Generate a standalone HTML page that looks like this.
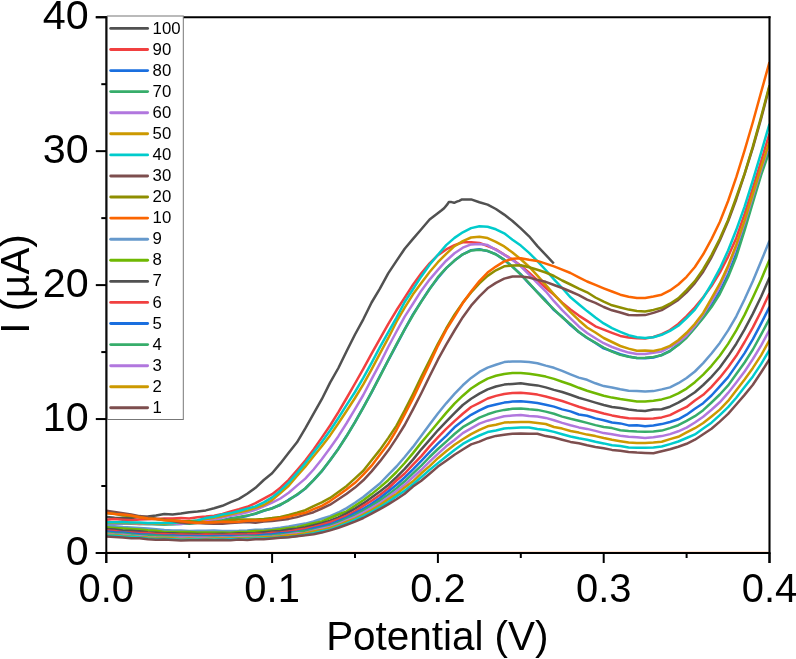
<!DOCTYPE html>
<html><head><meta charset="utf-8"><title>DPV plot</title>
<style>
html,body{margin:0;padding:0;background:#fff;}
body{width:796px;height:659px;overflow:hidden;}
svg{display:block;font-family:"Liberation Sans",Arial,sans-serif;}
.curves path{fill:none;stroke-width:2.5;stroke-linejoin:round;stroke-linecap:butt;}
.axes line{stroke:#000;stroke-width:2.0;}
text{fill:#000;}
</style></head>
<body>
<svg width="796" height="659" viewBox="0 0 796 659">
<rect width="796" height="659" fill="#fff"/>
<defs><clipPath id="clip"><rect x="106.3" y="17.2" width="663.7" height="535.8"/></clipPath></defs>
<line x1="106.3" y1="552.0" x2="769.5" y2="552.0" stroke="#FB6501" stroke-width="0.5" opacity="0.7"/>
<g class="curves" clip-path="url(#clip)">
<path d="M106.3 517.0 L114.6 517.7 L122.9 518.1 L131.2 518.0 L139.5 516.9 L147.8 516.5 L156.0 515.6 L164.3 514.0 L172.6 514.5 L180.9 513.6 L189.2 512.3 L197.5 511.5 L205.8 510.4 L214.1 508.3 L222.4 505.8 L230.7 502.1 L238.9 498.9 L247.2 493.7 L255.5 487.8 L263.8 480.0 L272.1 473.3 L280.4 463.4 L288.7 452.8 L297.0 442.3 L305.3 428.4 L313.6 413.7 L321.8 399.2 L330.1 382.6 L338.4 368.0 L346.7 351.0 L355.0 334.5 L363.3 319.3 L371.6 302.5 L379.9 288.6 L388.2 273.4 L396.5 260.9 L404.7 248.7 L413.0 238.9 L421.3 229.2 L429.6 219.5 L441.0 210.8 L444.1 208.2 L447.5 204.1 L448.9 201.9 L451.5 202.1 L454.2 202.8 L456.8 201.7 L459.2 200.8 L462.0 199.4 L471.1 199.4 L479.4 202.2 L487.6 204.6 L495.9 209.0 L504.2 214.6 L512.5 221.0 L520.8 228.4 L529.1 236.3 L537.4 246.1 L545.7 254.8 L553.8 263.5" stroke="#515151"/>
<path d="M106.3 519.7 L114.6 519.1 L122.9 519.7 L131.2 520.2 L139.5 519.6 L147.8 519.2 L156.0 518.9 L164.3 518.6 L172.6 518.6 L180.9 518.0 L189.2 518.4 L197.5 517.3 L205.8 516.6 L214.1 515.7 L222.4 514.0 L230.7 511.5 L238.9 509.3 L247.2 506.8 L255.5 503.2 L263.8 498.7 L272.1 494.2 L280.4 487.7 L288.7 479.8 L297.0 470.3 L305.3 460.5 L313.6 449.4 L321.8 437.6 L330.1 425.5 L338.4 412.2 L346.7 398.0 L355.0 383.5 L363.3 368.8 L371.6 353.7 L379.9 338.9 L388.2 324.1 L396.5 310.3 L404.7 297.6 L413.0 284.8 L421.3 273.2 L429.6 263.4 L437.9 255.2 L446.2 249.4 L454.5 245.2 L462.8 242.3 L471.1 242.2 L479.4 242.9 L487.6 246.0 L495.9 249.3 L504.2 254.6 L512.5 259.5 L520.8 265.8 L529.1 272.8 L537.4 280.3 L545.7 287.8 L554.0 294.9 L562.2 302.7 L570.5 309.5 L578.8 315.6 L587.1 320.9 L595.4 326.3 L603.7 329.7 L612.0 332.9 L620.3 335.9 L628.6 337.5 L636.9 338.3 L645.1 338.4 L653.4 337.0 L661.7 334.2 L670.0 330.1 L678.3 323.9 L686.6 316.1 L694.9 307.3 L703.2 297.2 L711.5 286.1 L719.8 272.6 L728.1 256.6 L736.3 237.9 L744.6 214.2 L752.9 187.8 L761.2 161.0 L769.5 133.6" stroke="#F14040"/>
<path d="M106.3 523.6 L114.6 523.5 L122.9 523.3 L131.2 523.3 L139.5 523.7 L147.8 524.0 L156.0 524.0 L164.3 524.3 L172.6 523.8 L180.9 524.0 L189.2 522.9 L197.5 522.7 L205.8 522.1 L214.1 521.3 L222.4 520.4 L230.7 518.2 L238.9 517.5 L247.2 515.9 L255.5 513.8 L263.8 510.8 L272.1 508.2 L280.4 505.0 L288.7 499.7 L297.0 494.9 L305.3 488.5 L313.6 480.1 L321.8 471.2 L330.1 460.3 L338.4 448.6 L346.7 435.8 L355.0 422.2 L363.3 407.4 L371.6 392.4 L379.9 376.0 L388.2 360.3 L396.5 344.8 L404.7 329.4 L413.0 314.4 L421.3 301.4 L429.6 288.7 L437.9 277.9 L446.2 268.2 L454.5 260.6 L462.8 254.3 L471.1 250.2 L479.4 249.2 L487.6 251.1 L495.9 254.2 L504.2 259.9 L512.5 266.6 L520.8 274.4 L529.1 283.7 L537.4 292.1 L545.7 300.5 L554.0 310.1 L562.2 316.8 L570.5 325.0 L578.8 332.0 L587.1 338.0 L595.4 342.9 L603.7 348.4 L612.0 351.3 L620.3 354.2 L628.6 356.5 L636.9 358.0 L645.1 358.2 L653.4 357.6 L661.7 355.0 L670.0 351.0 L678.3 344.5 L686.6 336.9 L694.9 327.7 L703.2 317.0 L711.5 305.5 L719.8 291.5 L728.1 274.6 L736.3 253.5 L744.6 227.7 L752.9 200.0 L761.2 172.6 L768.6 151.0" stroke="#1A6FDF"/>
<path d="M106.3 523.6 L114.6 523.5 L122.9 523.3 L131.2 523.7 L139.5 524.1 L147.8 523.8 L156.0 524.2 L164.3 524.5 L172.6 524.2 L180.9 523.8 L189.2 523.7 L197.5 522.8 L205.8 522.0 L214.1 521.3 L222.4 520.3 L230.7 518.6 L238.9 517.1 L247.2 515.6 L255.5 513.5 L263.8 510.5 L272.1 508.5 L280.4 504.5 L288.7 500.3 L297.0 494.4 L305.3 488.5 L313.6 480.1 L321.8 471.1 L330.1 460.2 L338.4 448.9 L346.7 436.0 L355.0 422.1 L363.3 407.6 L371.6 392.1 L379.9 376.6 L388.2 360.2 L396.5 344.3 L404.7 329.3 L413.0 315.0 L421.3 301.6 L429.6 289.1 L437.9 277.2 L446.2 268.2 L454.5 260.6 L462.8 254.3 L471.1 250.6 L479.4 249.7 L487.6 250.8 L495.9 254.5 L504.2 259.6 L512.5 266.9 L520.8 274.7 L529.1 283.2 L537.4 292.5 L545.7 301.4 L554.0 309.3 L562.2 317.3 L570.5 324.2 L578.8 332.0 L587.1 337.7 L595.4 342.7 L603.7 347.5 L612.0 351.7 L620.3 354.9 L628.6 356.7 L636.9 358.0 L645.1 357.8 L653.4 356.9 L661.7 355.2 L670.0 351.1 L678.3 345.0 L686.6 337.7 L694.9 328.0 L703.2 317.9 L711.5 307.1 L719.8 294.0 L728.1 277.0 L736.3 256.7 L744.6 230.3 L752.9 202.5 L761.2 174.8 L769.5 150.9" stroke="#37AD6B"/>
<path d="M106.3 523.2 L114.6 523.5 L122.9 523.2 L131.2 523.3 L139.5 523.9 L147.8 523.3 L156.0 523.4 L164.3 523.7 L172.6 523.4 L180.9 523.7 L189.2 522.7 L197.5 521.4 L205.8 520.3 L214.1 520.1 L222.4 517.5 L230.7 515.8 L238.9 514.3 L247.2 512.3 L255.5 509.8 L263.8 506.4 L272.1 502.6 L280.4 498.5 L288.7 492.7 L297.0 485.6 L305.3 478.6 L313.6 469.5 L321.8 459.2 L330.1 448.0 L338.4 436.2 L346.7 423.0 L355.0 409.1 L363.3 395.0 L371.6 379.2 L379.9 363.7 L388.2 347.0 L396.5 331.5 L404.7 316.6 L413.0 303.7 L421.3 290.7 L429.6 279.6 L437.9 269.9 L446.2 260.7 L454.5 253.2 L462.8 247.7 L471.1 244.4 L479.4 244.0 L487.6 245.1 L495.9 249.8 L504.2 254.7 L512.5 260.1 L520.8 266.3 L529.1 274.6 L537.4 283.1 L545.7 291.3 L554.0 301.2 L562.2 310.2 L570.5 318.4 L578.8 326.4 L587.1 333.0 L595.4 338.2 L603.7 343.2 L612.0 347.0 L620.3 350.0 L628.6 352.6 L636.9 354.0 L645.1 354.0 L653.4 352.7 L661.7 351.4 L670.0 347.1 L678.3 342.2 L686.6 335.5 L694.9 325.8 L703.2 314.4 L711.5 301.2 L719.8 286.5 L728.1 268.0 L736.3 246.8 L744.6 222.6 L752.9 196.0 L761.2 169.2 L769.5 143.7" stroke="#B177DE"/>
<path d="M106.3 522.8 L114.6 522.4 L122.9 522.8 L131.2 522.9 L139.5 523.2 L147.8 523.2 L156.0 523.5 L164.3 523.7 L172.6 523.0 L180.9 522.6 L189.2 521.2 L197.5 520.8 L205.8 519.1 L214.1 517.7 L222.4 516.3 L230.7 514.4 L238.9 512.2 L247.2 510.6 L255.5 507.7 L263.8 505.0 L272.1 500.1 L280.4 493.0 L288.7 485.8 L297.0 476.0 L305.3 466.6 L313.6 456.2 L321.8 446.2 L330.1 435.4 L338.4 423.2 L346.7 410.7 L355.0 398.0 L363.3 384.4 L371.6 369.3 L379.9 353.7 L388.2 338.2 L396.5 321.7 L404.7 307.7 L413.0 294.3 L421.3 282.9 L429.6 272.0 L437.9 262.2 L446.2 253.8 L454.5 246.2 L462.8 241.1 L471.1 237.5 L479.4 236.8 L487.6 238.1 L495.9 241.9 L504.2 246.4 L512.5 252.5 L520.8 259.3 L529.1 266.7 L537.4 275.7 L545.7 284.8 L554.0 294.3 L562.2 303.4 L570.5 312.1 L578.8 320.2 L587.1 327.5 L595.4 332.5 L603.7 338.0 L612.0 342.0 L620.3 346.0 L628.6 348.6 L636.9 350.7 L645.1 350.5 L653.4 351.0 L661.7 349.1 L670.0 345.9 L678.3 340.2 L686.6 332.8 L694.9 323.8 L703.2 312.9 L711.5 298.3 L719.8 283.7 L728.1 265.9 L736.3 244.7 L744.6 220.3 L752.9 193.7 L761.2 167.1 L769.5 141.6" stroke="#CC9900"/>
<path d="M106.3 522.3 L114.6 522.3 L122.9 522.1 L131.2 522.4 L139.5 522.5 L147.8 523.0 L156.0 523.0 L164.3 522.9 L172.6 522.9 L180.9 521.9 L189.2 521.5 L197.5 520.3 L205.8 518.1 L214.1 516.8 L222.4 514.5 L230.7 513.1 L238.9 511.0 L247.2 508.6 L255.5 506.4 L263.8 502.4 L272.1 497.4 L280.4 490.7 L288.7 482.6 L297.0 473.1 L305.3 463.1 L313.6 452.4 L321.8 441.9 L330.1 430.5 L338.4 418.0 L346.7 404.9 L355.0 392.0 L363.3 377.9 L371.6 362.8 L379.9 347.2 L388.2 332.3 L396.5 317.6 L404.7 302.0 L413.0 289.2 L421.3 276.4 L429.6 264.8 L437.9 254.8 L446.2 245.1 L454.5 237.9 L462.8 232.3 L471.1 228.1 L479.4 226.3 L487.6 226.7 L495.9 229.3 L504.2 233.3 L512.5 239.7 L520.8 245.6 L529.1 252.9 L537.4 261.1 L545.7 270.0 L554.0 279.3 L562.2 288.0 L570.5 297.3 L578.8 304.3 L587.1 311.1 L595.4 317.5 L603.7 323.4 L612.0 328.2 L620.3 331.8 L628.6 335.2 L636.9 337.2 L645.1 338.1 L653.4 337.3 L661.7 334.8 L670.0 330.9 L678.3 325.8 L686.6 318.0 L694.9 309.6 L703.2 297.9 L711.5 284.2 L719.8 268.7 L728.1 250.5 L736.3 229.8 L744.6 206.6 L752.9 180.1 L761.2 152.3 L769.5 123.8" stroke="#00CBCC"/>
<path d="M106.3 510.7 L114.6 511.9 L122.9 513.2 L131.2 514.4 L139.5 516.1 L147.8 517.1 L156.0 518.8 L164.3 519.8 L172.6 520.9 L180.9 522.4 L189.2 523.1 L197.5 522.9 L205.8 523.4 L214.1 523.7 L222.4 523.7 L230.7 522.9 L238.9 522.6 L247.2 521.9 L255.5 522.7 L263.8 521.6 L272.1 521.1 L280.4 520.1 L288.7 518.9 L297.0 517.1 L305.3 514.6 L313.6 512.2 L321.8 508.5 L330.1 504.7 L338.4 499.3 L346.7 493.7 L355.0 487.6 L363.3 480.3 L371.6 471.4 L379.9 461.4 L388.2 450.6 L396.5 438.1 L404.7 425.0 L413.0 409.3 L421.3 393.2 L429.6 376.3 L437.9 359.7 L446.2 344.7 L454.5 330.5 L462.8 317.2 L471.1 305.7 L479.4 296.4 L487.6 288.3 L495.9 282.9 L504.2 278.6 L512.5 276.5 L520.8 276.6 L529.1 277.5 L537.4 279.9 L545.7 281.8 L554.0 285.0 L562.2 288.0 L570.5 291.5 L578.8 295.2 L587.1 299.7 L595.4 302.8 L603.7 307.0 L612.0 310.3 L620.3 312.5 L628.6 315.0 L636.9 315.3 L645.1 315.1 L653.4 312.9 L661.7 310.1 L670.0 305.1 L678.3 299.9 L686.6 292.3 L694.9 283.1 L703.2 271.7 L711.5 257.3 L719.8 240.4 L728.1 221.2 L736.3 199.2 L744.6 174.1 L752.9 147.7 L761.2 118.4 L769.5 86.6" stroke="#7D4E4E"/>
<path d="M106.3 513.2 L114.6 513.7 L122.9 515.5 L131.2 516.0 L139.5 517.1 L147.8 518.4 L156.0 518.9 L164.3 519.9 L172.6 520.2 L180.9 521.0 L189.2 521.3 L197.5 522.0 L205.8 522.4 L214.1 521.8 L222.4 521.4 L230.7 520.1 L238.9 519.6 L247.2 519.4 L255.5 519.4 L263.8 518.9 L272.1 518.1 L280.4 517.0 L288.7 515.0 L297.0 512.7 L305.3 510.2 L313.6 506.1 L321.8 502.3 L330.1 497.9 L338.4 492.0 L346.7 485.9 L355.0 478.3 L363.3 470.8 L371.6 460.2 L379.9 449.9 L388.2 438.1 L396.5 425.6 L404.7 410.4 L413.0 394.0 L421.3 376.8 L429.6 360.2 L437.9 343.8 L446.2 328.5 L454.5 314.6 L462.8 302.6 L471.1 292.4 L479.4 283.4 L487.6 275.9 L495.9 270.3 L504.2 266.3 L512.5 265.4 L520.8 265.3 L529.1 267.2 L537.4 269.8 L545.7 272.5 L554.0 276.0 L562.2 280.5 L570.5 284.5 L578.8 288.6 L587.1 292.3 L595.4 297.5 L603.7 301.7 L612.0 305.3 L620.3 307.5 L628.6 309.6 L636.9 310.9 L645.1 311.4 L653.4 309.9 L661.7 307.8 L670.0 303.7 L678.3 298.3 L686.6 290.2 L694.9 281.1 L703.2 269.1 L711.5 255.1 L719.8 238.8 L728.1 219.9 L736.3 197.3 L744.6 173.6 L752.9 146.3 L761.2 116.6 L769.5 85.3" stroke="#8E8E00"/>
<path d="M106.3 512.8 L114.6 514.1 L122.9 514.5 L131.2 515.5 L139.5 517.2 L147.8 518.6 L156.0 519.1 L164.3 520.2 L172.6 520.6 L180.9 521.2 L189.2 522.2 L197.5 523.1 L205.8 522.3 L214.1 522.6 L222.4 521.8 L230.7 522.0 L238.9 521.7 L247.2 520.7 L255.5 520.6 L263.8 520.6 L272.1 519.5 L280.4 518.2 L288.7 516.7 L297.0 514.6 L305.3 512.8 L313.6 509.2 L321.8 505.8 L330.1 501.1 L338.4 495.3 L346.7 489.3 L355.0 482.8 L363.3 474.7 L371.6 465.7 L379.9 454.8 L388.2 443.8 L396.5 430.0 L404.7 414.5 L413.0 398.4 L421.3 381.0 L429.6 363.7 L437.9 345.8 L446.2 329.8 L454.5 316.6 L462.8 303.1 L471.1 291.5 L479.4 281.1 L487.6 272.6 L495.9 266.6 L504.2 261.4 L512.5 258.8 L520.8 258.2 L529.1 259.7 L537.4 260.9 L545.7 263.6 L554.0 266.4 L562.2 269.7 L570.5 273.0 L578.8 277.3 L587.1 281.5 L595.4 284.9 L603.7 288.3 L612.0 291.5 L620.3 294.7 L628.6 296.7 L636.9 297.9 L645.1 298.1 L653.4 296.5 L661.7 294.7 L670.0 290.4 L678.3 284.5 L686.6 276.8 L694.9 267.0 L703.2 254.3 L711.5 239.1 L719.8 222.0 L728.1 201.0 L736.3 177.2 L744.6 150.3 L752.9 122.0 L761.2 91.8 L769.5 62.2" stroke="#FB6501"/>
<path d="M106.3 525.6 L114.6 526.3 L122.9 527.1 L131.2 527.5 L139.5 527.9 L147.8 528.6 L156.0 529.2 L164.3 530.1 L172.6 530.4 L180.9 530.6 L189.2 531.0 L197.5 530.8 L205.8 530.7 L214.1 530.4 L222.4 531.0 L230.7 530.9 L238.9 530.8 L247.2 530.4 L255.5 529.8 L263.8 529.4 L272.1 528.7 L280.4 527.7 L288.7 526.5 L297.0 525.1 L305.3 523.6 L313.6 521.5 L321.8 518.8 L330.1 516.1 L338.4 512.5 L346.7 508.1 L355.0 502.8 L363.3 497.0 L371.6 490.2 L379.9 483.5 L388.2 474.8 L396.5 466.5 L404.7 457.0 L413.0 446.9 L421.3 435.8 L429.6 424.5 L437.9 413.5 L446.2 403.3 L454.5 393.9 L462.8 385.3 L471.1 377.9 L479.4 371.9 L487.6 367.6 L495.9 364.7 L504.2 362.1 L512.5 361.4 L520.8 361.6 L529.1 362.1 L537.4 363.2 L545.7 365.6 L554.0 367.8 L562.2 370.9 L570.5 374.3 L578.8 377.6 L587.1 379.8 L595.4 383.3 L603.7 386.1 L612.0 387.5 L620.3 389.3 L628.6 390.8 L636.9 391.1 L645.1 391.6 L653.4 391.1 L661.7 389.4 L670.0 387.4 L678.3 383.2 L686.6 378.0 L694.9 371.5 L703.2 363.1 L711.5 353.5 L719.8 342.9 L728.1 330.4 L736.3 316.3 L744.6 299.3 L752.9 281.1 L761.2 261.1 L769.5 240.7" stroke="#6699CC"/>
<path d="M106.3 527.3 L114.6 527.9 L122.9 528.4 L131.2 529.0 L139.5 529.5 L147.8 530.3 L156.0 530.8 L164.3 531.9 L172.6 532.0 L180.9 532.0 L189.2 532.1 L197.5 532.6 L205.8 532.4 L214.1 532.4 L222.4 532.5 L230.7 532.7 L238.9 531.9 L247.2 531.8 L255.5 531.1 L263.8 531.1 L272.1 530.2 L280.4 529.2 L288.7 528.1 L297.0 527.2 L305.3 525.3 L313.6 523.3 L321.8 521.4 L330.1 518.0 L338.4 514.5 L346.7 511.3 L355.0 505.7 L363.3 500.2 L371.6 494.1 L379.9 487.4 L388.2 480.2 L396.5 472.0 L404.7 463.0 L413.0 453.1 L421.3 442.6 L429.6 432.7 L437.9 422.8 L446.2 412.9 L454.5 403.6 L462.8 395.7 L471.1 388.5 L479.4 383.1 L487.6 378.6 L495.9 375.8 L504.2 374.0 L512.5 372.9 L520.8 372.9 L529.1 373.8 L537.4 375.0 L545.7 376.6 L554.0 378.9 L562.2 381.7 L570.5 384.5 L578.8 387.8 L587.1 390.7 L595.4 393.3 L603.7 395.7 L612.0 397.6 L620.3 399.1 L628.6 400.2 L636.9 401.5 L645.1 401.6 L653.4 400.7 L661.7 399.4 L670.0 397.1 L678.3 393.4 L686.6 388.6 L694.9 382.2 L703.2 374.6 L711.5 365.8 L719.8 355.7 L728.1 343.9 L736.3 330.4 L744.6 314.9 L752.9 297.5 L761.2 279.4 L769.5 259.7" stroke="#6FB802"/>
<path d="M106.3 528.9 L114.6 529.5 L122.9 530.5 L131.2 530.8 L139.5 531.2 L147.8 532.3 L156.0 532.7 L164.3 533.2 L172.6 533.3 L180.9 533.7 L189.2 533.8 L197.5 533.9 L205.8 534.0 L214.1 534.0 L222.4 533.8 L230.7 533.9 L238.9 533.3 L247.2 533.5 L255.5 533.1 L263.8 532.3 L272.1 531.6 L280.4 530.9 L288.7 529.6 L297.0 528.8 L305.3 527.2 L313.6 525.1 L321.8 523.1 L330.1 520.7 L338.4 517.4 L346.7 513.4 L355.0 508.6 L363.3 503.4 L371.6 497.6 L379.9 491.5 L388.2 485.0 L396.5 477.1 L404.7 468.8 L413.0 459.6 L421.3 449.3 L429.6 439.9 L437.9 430.3 L446.2 421.6 L454.5 413.2 L462.8 405.0 L471.1 398.7 L479.4 393.6 L487.6 389.4 L495.9 386.5 L504.2 384.6 L512.5 383.9 L520.8 383.3 L529.1 384.4 L537.4 385.4 L545.7 387.4 L554.0 389.9 L562.2 392.0 L570.5 394.8 L578.8 397.8 L587.1 400.1 L595.4 402.6 L603.7 405.0 L612.0 407.0 L620.3 408.1 L628.6 409.5 L636.9 410.5 L645.1 410.9 L653.4 409.6 L661.7 409.2 L670.0 406.7 L678.3 402.7 L686.6 397.8 L694.9 392.3 L703.2 385.0 L711.5 376.8 L719.8 367.5 L728.1 356.1 L736.3 343.7 L744.6 329.4 L752.9 313.6 L761.2 296.5 L769.5 277.5" stroke="#515151"/>
<path d="M106.3 530.4 L114.6 531.0 L122.9 532.3 L131.2 532.4 L139.5 532.9 L147.8 533.0 L156.0 534.0 L164.3 534.1 L172.6 534.6 L180.9 534.6 L189.2 534.8 L197.5 535.0 L205.8 534.6 L214.1 534.8 L222.4 535.0 L230.7 534.6 L238.9 534.5 L247.2 534.3 L255.5 533.8 L263.8 533.9 L272.1 532.8 L280.4 532.5 L288.7 531.6 L297.0 529.9 L305.3 528.8 L313.6 526.9 L321.8 524.6 L330.1 522.2 L338.4 519.1 L346.7 515.6 L355.0 511.4 L363.3 505.9 L371.6 500.7 L379.9 494.9 L388.2 488.5 L396.5 480.5 L404.7 473.5 L413.0 464.6 L421.3 456.1 L429.6 446.4 L437.9 437.3 L446.2 428.9 L454.5 421.1 L462.8 413.7 L471.1 407.0 L479.4 402.8 L487.6 398.5 L495.9 395.9 L504.2 394.0 L512.5 392.9 L520.8 392.8 L529.1 393.4 L537.4 394.6 L545.7 396.5 L554.0 398.7 L562.2 401.0 L570.5 403.9 L578.8 406.8 L587.1 409.2 L595.4 411.3 L603.7 413.5 L612.0 415.4 L620.3 417.0 L628.6 418.3 L636.9 418.5 L645.1 418.7 L653.4 418.6 L661.7 417.4 L670.0 415.1 L678.3 410.8 L686.6 406.9 L694.9 400.5 L703.2 394.8 L711.5 386.8 L719.8 377.7 L728.1 367.3 L736.3 355.8 L744.6 342.0 L752.9 327.4 L761.2 311.0 L769.5 293.2" stroke="#F14040"/>
<path d="M106.3 531.6 L114.6 532.3 L122.9 532.6 L131.2 533.6 L139.5 534.2 L147.8 534.5 L156.0 535.2 L164.3 535.7 L172.6 535.5 L180.9 535.9 L189.2 536.0 L197.5 535.9 L205.8 536.2 L214.1 535.9 L222.4 535.9 L230.7 536.0 L238.9 535.9 L247.2 535.7 L255.5 535.8 L263.8 534.7 L272.1 534.3 L280.4 533.2 L288.7 532.7 L297.0 531.8 L305.3 530.4 L313.6 528.3 L321.8 526.4 L330.1 524.3 L338.4 520.9 L346.7 517.6 L355.0 513.0 L363.3 508.9 L371.6 503.7 L379.9 497.9 L388.2 491.4 L396.5 484.8 L404.7 477.5 L413.0 469.4 L421.3 460.8 L429.6 452.1 L437.9 443.7 L446.2 435.8 L454.5 427.3 L462.8 420.7 L471.1 414.8 L479.4 410.4 L487.6 406.5 L495.9 404.5 L504.2 402.6 L512.5 401.6 L520.8 401.2 L529.1 401.9 L537.4 403.0 L545.7 404.7 L554.0 406.6 L562.2 409.4 L570.5 411.4 L578.8 414.5 L587.1 415.7 L595.4 418.4 L603.7 420.3 L612.0 422.5 L620.3 423.4 L628.6 425.4 L636.9 425.2 L645.1 426.3 L653.4 425.4 L661.7 424.1 L670.0 422.0 L678.3 419.3 L686.6 414.7 L694.9 408.7 L703.2 403.2 L711.5 395.5 L719.8 386.4 L728.1 377.1 L736.3 365.4 L744.6 353.1 L752.9 339.1 L761.2 323.4 L769.5 306.9" stroke="#1A6FDF"/>
<path d="M106.3 532.7 L114.6 533.4 L122.9 533.8 L131.2 534.5 L139.5 535.5 L147.8 535.6 L156.0 535.8 L164.3 536.4 L172.6 536.6 L180.9 536.9 L189.2 537.1 L197.5 537.1 L205.8 537.1 L214.1 536.9 L222.4 537.1 L230.7 537.2 L238.9 536.6 L247.2 536.5 L255.5 536.2 L263.8 536.1 L272.1 535.5 L280.4 534.4 L288.7 533.7 L297.0 532.2 L305.3 531.1 L313.6 529.7 L321.8 527.9 L330.1 525.6 L338.4 522.4 L346.7 518.8 L355.0 515.2 L363.3 510.6 L371.6 505.8 L379.9 500.4 L388.2 494.7 L396.5 488.3 L404.7 481.3 L413.0 473.3 L421.3 465.6 L429.6 457.0 L437.9 449.0 L446.2 441.6 L454.5 434.0 L462.8 427.2 L471.1 422.3 L479.4 417.7 L487.6 414.3 L495.9 411.6 L504.2 409.9 L512.5 408.8 L520.8 408.4 L529.1 409.3 L537.4 409.9 L545.7 411.6 L554.0 413.7 L562.2 416.6 L570.5 418.8 L578.8 420.7 L587.1 422.9 L595.4 425.1 L603.7 427.0 L612.0 428.1 L620.3 430.2 L628.6 431.1 L636.9 431.6 L645.1 431.8 L653.4 431.6 L661.7 430.6 L670.0 428.1 L678.3 425.2 L686.6 420.9 L694.9 416.2 L703.2 410.2 L711.5 402.5 L719.8 394.5 L728.1 385.4 L736.3 374.1 L744.6 362.5 L752.9 349.5 L761.2 334.3 L769.5 318.7" stroke="#37AD6B"/>
<path d="M106.3 533.7 L114.6 534.6 L122.9 534.7 L131.2 535.8 L139.5 536.2 L147.8 536.9 L156.0 537.3 L164.3 537.5 L172.6 537.8 L180.9 537.4 L189.2 537.6 L197.5 537.7 L205.8 537.8 L214.1 538.1 L222.4 537.4 L230.7 537.7 L238.9 537.3 L247.2 537.0 L255.5 537.5 L263.8 536.7 L272.1 536.6 L280.4 535.8 L288.7 534.5 L297.0 533.2 L305.3 532.9 L313.6 530.8 L321.8 528.7 L330.1 526.9 L338.4 524.0 L346.7 520.5 L355.0 516.8 L363.3 512.6 L371.6 507.9 L379.9 503.0 L388.2 497.2 L396.5 491.1 L404.7 484.7 L413.0 477.3 L421.3 469.8 L429.6 461.7 L437.9 453.9 L446.2 446.3 L454.5 440.0 L462.8 433.1 L471.1 428.3 L479.4 423.7 L487.6 420.7 L495.9 418.4 L504.2 416.2 L512.5 415.6 L520.8 414.9 L529.1 416.0 L537.4 416.6 L545.7 417.9 L554.0 420.2 L562.2 422.9 L570.5 425.3 L578.8 427.4 L587.1 428.9 L595.4 430.9 L603.7 433.1 L612.0 434.2 L620.3 435.7 L628.6 436.7 L636.9 437.3 L645.1 438.0 L653.4 437.3 L661.7 436.1 L670.0 434.1 L678.3 431.3 L686.6 427.6 L694.9 422.5 L703.2 416.7 L711.5 409.7 L719.8 402.3 L728.1 392.9 L736.3 382.5 L744.6 371.5 L752.9 359.0 L761.2 345.3 L769.5 329.9" stroke="#B177DE"/>
<path d="M106.3 534.6 L114.6 535.1 L122.9 535.8 L131.2 536.2 L139.5 537.0 L147.8 537.6 L156.0 537.9 L164.3 537.8 L172.6 538.2 L180.9 539.0 L189.2 538.5 L197.5 538.9 L205.8 538.9 L214.1 538.6 L222.4 538.4 L230.7 538.6 L238.9 538.2 L247.2 538.1 L255.5 537.9 L263.8 537.3 L272.1 537.0 L280.4 536.3 L288.7 535.3 L297.0 534.6 L305.3 533.3 L313.6 531.5 L321.8 530.1 L330.1 527.9 L338.4 525.2 L346.7 521.6 L355.0 518.7 L363.3 514.6 L371.6 510.1 L379.9 505.1 L388.2 499.4 L396.5 494.0 L404.7 487.4 L413.0 481.3 L421.3 473.3 L429.6 466.1 L437.9 458.2 L446.2 451.2 L454.5 444.8 L462.8 439.2 L471.1 434.1 L479.4 429.9 L487.6 426.3 L495.9 424.7 L504.2 422.6 L512.5 422.2 L520.8 422.0 L529.1 422.0 L537.4 423.0 L545.7 424.0 L554.0 427.0 L562.2 428.6 L570.5 431.0 L578.8 432.6 L587.1 434.6 L595.4 436.1 L603.7 438.0 L612.0 439.7 L620.3 441.2 L628.6 442.6 L636.9 443.0 L645.1 443.1 L653.4 442.5 L661.7 441.7 L670.0 439.1 L678.3 436.8 L686.6 432.4 L694.9 428.2 L703.2 423.0 L711.5 416.4 L719.8 409.6 L728.1 400.9 L736.3 390.2 L744.6 379.5 L752.9 367.9 L761.2 355.1 L769.5 340.1" stroke="#CC9900"/>
<path d="M106.3 535.5 L114.6 535.8 L122.9 536.6 L131.2 536.7 L139.5 537.5 L147.8 538.4 L156.0 538.9 L164.3 538.7 L172.6 539.3 L180.9 539.8 L189.2 539.6 L197.5 539.5 L205.8 539.7 L214.1 539.6 L222.4 539.4 L230.7 539.2 L238.9 539.0 L247.2 539.0 L255.5 538.5 L263.8 538.6 L272.1 538.1 L280.4 537.5 L288.7 537.0 L297.0 536.0 L305.3 534.8 L313.6 533.1 L321.8 531.2 L330.1 529.7 L338.4 526.4 L346.7 523.4 L355.0 519.8 L363.3 516.1 L371.6 511.9 L379.9 507.4 L388.2 502.1 L396.5 496.2 L404.7 490.7 L413.0 484.3 L421.3 477.1 L429.6 469.9 L437.9 463.1 L446.2 456.5 L454.5 449.9 L462.8 443.9 L471.1 439.3 L479.4 435.5 L487.6 432.1 L495.9 430.5 L504.2 428.5 L512.5 427.9 L520.8 427.5 L529.1 427.6 L537.4 429.0 L545.7 430.0 L554.0 431.9 L562.2 434.2 L570.5 436.5 L578.8 438.2 L587.1 439.7 L595.4 441.8 L603.7 443.4 L612.0 445.3 L620.3 446.1 L628.6 447.4 L636.9 447.8 L645.1 447.7 L653.4 447.5 L661.7 446.5 L670.0 444.1 L678.3 441.5 L686.6 438.0 L694.9 434.4 L703.2 428.6 L711.5 422.7 L719.8 415.1 L728.1 407.1 L736.3 397.7 L744.6 387.1 L752.9 376.4 L761.2 363.9 L769.5 349.8" stroke="#00CBCC"/>
<path d="M106.3 536.4 L114.6 536.9 L122.9 537.4 L131.2 538.2 L139.5 538.2 L147.8 539.2 L156.0 539.8 L164.3 539.5 L172.6 540.0 L180.9 540.5 L189.2 540.3 L197.5 540.2 L205.8 540.1 L214.1 540.3 L222.4 540.1 L230.7 540.2 L238.9 539.5 L247.2 539.9 L255.5 539.3 L263.8 539.2 L272.1 538.5 L280.4 537.8 L288.7 537.2 L297.0 536.2 L305.3 535.3 L313.6 534.2 L321.8 532.6 L330.1 530.4 L338.4 527.7 L346.7 524.8 L355.0 521.7 L363.3 518.0 L371.6 513.6 L379.9 509.2 L388.2 504.3 L396.5 499.3 L404.7 493.8 L413.0 486.6 L421.3 480.7 L429.6 473.8 L437.9 466.6 L446.2 460.8 L454.5 454.7 L462.8 449.5 L471.1 444.4 L479.4 441.6 L487.6 438.2 L495.9 435.9 L504.2 434.8 L512.5 433.7 L520.8 433.4 L529.1 433.7 L537.4 433.7 L545.7 436.1 L554.0 437.5 L562.2 439.7 L570.5 441.9 L578.8 443.3 L587.1 445.3 L595.4 446.9 L603.7 448.2 L612.0 449.9 L620.3 450.7 L628.6 452.0 L636.9 452.6 L645.1 453.0 L653.4 453.3 L661.7 451.2 L670.0 449.3 L678.3 446.8 L686.6 443.8 L694.9 439.7 L703.2 434.2 L711.5 428.8 L719.8 421.6 L728.1 413.9 L736.3 404.5 L744.6 394.9 L752.9 384.8 L761.2 372.2 L769.5 359.3" stroke="#7D4E4E"/>
</g>
<g class="axes">
<line x1="95.8" y1="17.2" x2="770.5" y2="17.2" style="stroke-width:2.0"/>
<line x1="95.8" y1="553.0" x2="770.5" y2="553.0"/>
<line x1="106.3" y1="16.2" x2="106.3" y2="563.0"/>
<line x1="769.5" y1="16.2" x2="769.5" y2="563.0" style="stroke-width:2.1"/>
<line x1="106.30" y1="553.00" x2="106.30" y2="563.00"/>
<line x1="189.20" y1="553.00" x2="189.20" y2="558.00"/>
<line x1="272.10" y1="553.00" x2="272.10" y2="563.00"/>
<line x1="355.00" y1="553.00" x2="355.00" y2="558.00"/>
<line x1="437.90" y1="553.00" x2="437.90" y2="563.00"/>
<line x1="520.80" y1="553.00" x2="520.80" y2="558.00"/>
<line x1="603.70" y1="553.00" x2="603.70" y2="563.00"/>
<line x1="686.60" y1="553.00" x2="686.60" y2="558.00"/>
<line x1="769.50" y1="553.00" x2="769.50" y2="563.00"/>
<line x1="106.30" y1="553.00" x2="95.80" y2="553.00"/>
<line x1="106.30" y1="486.02" x2="101.30" y2="486.02"/>
<line x1="106.30" y1="419.05" x2="95.80" y2="419.05"/>
<line x1="106.30" y1="352.08" x2="101.30" y2="352.08"/>
<line x1="106.30" y1="285.10" x2="95.80" y2="285.10"/>
<line x1="106.30" y1="218.12" x2="101.30" y2="218.12"/>
<line x1="106.30" y1="151.15" x2="95.80" y2="151.15"/>
<line x1="106.30" y1="84.18" x2="101.30" y2="84.18"/>
<line x1="106.30" y1="17.20" x2="95.80" y2="17.20"/>
</g>
<rect x="107.4" y="16.0" width="75.9" height="403.5" fill="#fff" stroke="#777" stroke-width="1"/>
<g class="legend">
<line x1="110.7" y1="28.4" x2="147.6" y2="28.4" stroke="#515151" stroke-width="2.90" stroke-linecap="round"/>
<text transform="translate(152.60,33.50) scale(1.0500,1)" text-anchor="start" font-size="16.00">100</text>
<line x1="110.7" y1="49.5" x2="147.6" y2="49.5" stroke="#F14040" stroke-width="2.90" stroke-linecap="round"/>
<text transform="translate(152.60,54.58) scale(1.0500,1)" text-anchor="start" font-size="16.00">90</text>
<line x1="110.7" y1="70.6" x2="147.6" y2="70.6" stroke="#1A6FDF" stroke-width="2.90" stroke-linecap="round"/>
<text transform="translate(152.60,75.66) scale(1.0500,1)" text-anchor="start" font-size="16.00">80</text>
<line x1="110.7" y1="91.6" x2="147.6" y2="91.6" stroke="#37AD6B" stroke-width="2.90" stroke-linecap="round"/>
<text transform="translate(152.60,96.74) scale(1.0500,1)" text-anchor="start" font-size="16.00">70</text>
<line x1="110.7" y1="112.7" x2="147.6" y2="112.7" stroke="#B177DE" stroke-width="2.90" stroke-linecap="round"/>
<text transform="translate(152.60,117.82) scale(1.0500,1)" text-anchor="start" font-size="16.00">60</text>
<line x1="110.7" y1="133.8" x2="147.6" y2="133.8" stroke="#CC9900" stroke-width="2.90" stroke-linecap="round"/>
<text transform="translate(152.60,138.90) scale(1.0500,1)" text-anchor="start" font-size="16.00">50</text>
<line x1="110.7" y1="154.9" x2="147.6" y2="154.9" stroke="#00CBCC" stroke-width="2.90" stroke-linecap="round"/>
<text transform="translate(152.60,159.98) scale(1.0500,1)" text-anchor="start" font-size="16.00">40</text>
<line x1="110.7" y1="176.0" x2="147.6" y2="176.0" stroke="#7D4E4E" stroke-width="2.90" stroke-linecap="round"/>
<text transform="translate(152.60,181.06) scale(1.0500,1)" text-anchor="start" font-size="16.00">30</text>
<line x1="110.7" y1="197.0" x2="147.6" y2="197.0" stroke="#8E8E00" stroke-width="2.90" stroke-linecap="round"/>
<text transform="translate(152.60,202.14) scale(1.0500,1)" text-anchor="start" font-size="16.00">20</text>
<line x1="110.7" y1="218.1" x2="147.6" y2="218.1" stroke="#FB6501" stroke-width="2.90" stroke-linecap="round"/>
<text transform="translate(152.60,223.22) scale(1.0500,1)" text-anchor="start" font-size="16.00">10</text>
<line x1="110.7" y1="239.2" x2="147.6" y2="239.2" stroke="#6699CC" stroke-width="2.90" stroke-linecap="round"/>
<text transform="translate(152.60,244.30) scale(1.0500,1)" text-anchor="start" font-size="16.00">9</text>
<line x1="110.7" y1="260.3" x2="147.6" y2="260.3" stroke="#6FB802" stroke-width="2.90" stroke-linecap="round"/>
<text transform="translate(152.60,265.38) scale(1.0500,1)" text-anchor="start" font-size="16.00">8</text>
<line x1="110.7" y1="281.4" x2="147.6" y2="281.4" stroke="#515151" stroke-width="2.90" stroke-linecap="round"/>
<text transform="translate(152.60,286.46) scale(1.0500,1)" text-anchor="start" font-size="16.00">7</text>
<line x1="110.7" y1="302.4" x2="147.6" y2="302.4" stroke="#F14040" stroke-width="2.90" stroke-linecap="round"/>
<text transform="translate(152.60,307.54) scale(1.0500,1)" text-anchor="start" font-size="16.00">6</text>
<line x1="110.7" y1="323.5" x2="147.6" y2="323.5" stroke="#1A6FDF" stroke-width="2.90" stroke-linecap="round"/>
<text transform="translate(152.60,328.62) scale(1.0500,1)" text-anchor="start" font-size="16.00">5</text>
<line x1="110.7" y1="344.6" x2="147.6" y2="344.6" stroke="#37AD6B" stroke-width="2.90" stroke-linecap="round"/>
<text transform="translate(152.60,349.70) scale(1.0500,1)" text-anchor="start" font-size="16.00">4</text>
<line x1="110.7" y1="365.7" x2="147.6" y2="365.7" stroke="#B177DE" stroke-width="2.90" stroke-linecap="round"/>
<text transform="translate(152.60,370.78) scale(1.0500,1)" text-anchor="start" font-size="16.00">3</text>
<line x1="110.7" y1="386.8" x2="147.6" y2="386.8" stroke="#CC9900" stroke-width="2.90" stroke-linecap="round"/>
<text transform="translate(152.60,391.86) scale(1.0500,1)" text-anchor="start" font-size="16.00">2</text>
<line x1="110.7" y1="407.8" x2="147.6" y2="407.8" stroke="#7D4E4E" stroke-width="2.90" stroke-linecap="round"/>
<text transform="translate(152.60,412.94) scale(1.0500,1)" text-anchor="start" font-size="16.00">1</text>
</g>
<g class="labels">
<text transform="translate(106.30,602.30) scale(0.9850,1)" text-anchor="middle" font-size="40.50">0.0</text>
<text transform="translate(272.10,602.30) scale(0.9850,1)" text-anchor="middle" font-size="40.50">0.1</text>
<text transform="translate(437.90,602.30) scale(0.9850,1)" text-anchor="middle" font-size="40.50">0.2</text>
<text transform="translate(603.70,602.30) scale(0.9850,1)" text-anchor="middle" font-size="40.50">0.3</text>
<text transform="translate(769.50,602.30) scale(0.9850,1)" text-anchor="middle" font-size="40.50">0.4</text>
<text transform="translate(88.80,565.00) scale(1.0200,1)" text-anchor="end" font-size="40.50">0</text>
<text transform="translate(88.80,431.05) scale(1.0200,1)" text-anchor="end" font-size="40.50">10</text>
<text transform="translate(88.80,297.10) scale(1.0200,1)" text-anchor="end" font-size="40.50">20</text>
<text transform="translate(88.80,163.15) scale(1.0200,1)" text-anchor="end" font-size="40.50">30</text>
<text transform="translate(88.80,29.20) scale(1.0200,1)" text-anchor="end" font-size="40.50">40</text>
<text transform="translate(437.30,650.20) scale(1.0000,1)" text-anchor="middle" font-size="40.40">Potential (V)</text>
<text transform="translate(28.8,284.0) rotate(-90)" text-anchor="middle" font-size="40.4">I (µA)</text>
</g>
</svg>
</body></html>
